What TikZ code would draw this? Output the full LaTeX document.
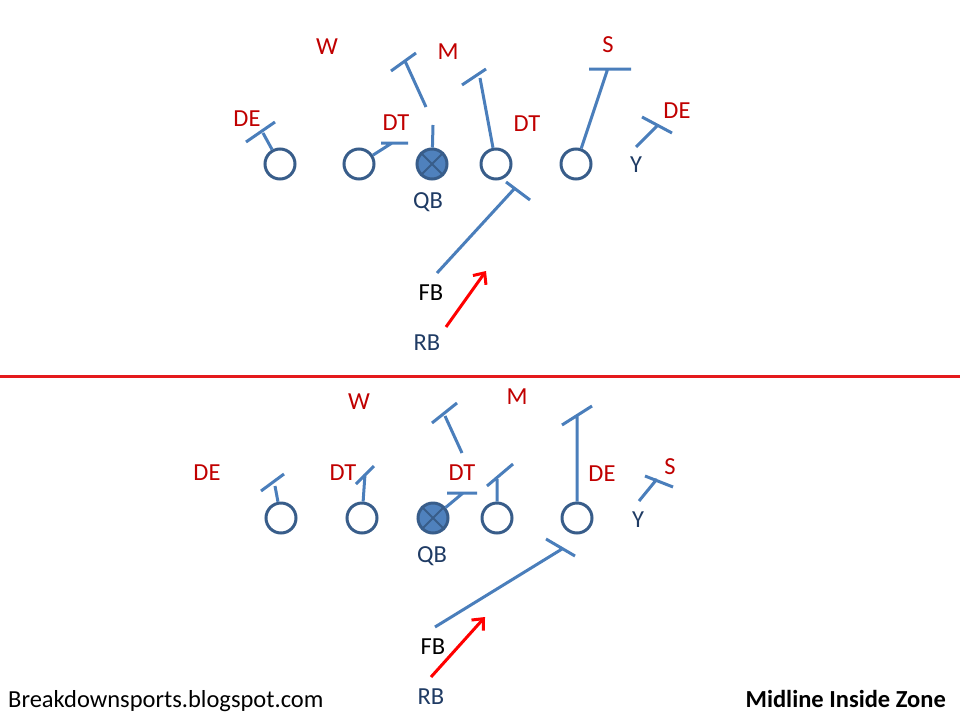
\documentclass[tikz,border=0pt]{standalone}
\usepackage{fontspec}
\setmainfont{Carlito}
\usetikzlibrary{arrows.meta}
\definecolor{office blue}{HTML}{4F81BD}
\definecolor{office edge}{HTML}{385D8A}
\definecolor{office line}{HTML}{4A7EBB}
\definecolor{office red}{HTML}{C00000}
\definecolor{office navy}{HTML}{1F3B64}
\definecolor{split red}{HTML}{E41A1C}
\colorlet{player edge}{office edge}
\colorlet{player area}{office blue}
\colorlet{block line}{office line}
\tikzset{player/.style={circle, minimum size=30, inner sep=0, draw=player edge, line width=3},
    ball/.style={player, fill=player area},
    block/.style={draw=block line, line width=3},
    defender/.style={text=office red, inner sep=0},
    offense/.style={text=office navy, inner sep=0},
    runpath/.style={draw=red, line width=3, -{Straight Barb[length=9,width=16,line width=3]}}}

\begin{document}
\begin{tikzpicture}[x=1pt, y=-1pt, font=\fontsize{24.5}{28}\selectfont]
    \useasboundingbox (0,0) rectangle (960,720);
    % first look
    \node[player] (tlt) at (280,164) {};
    \node[player] (tlg) at (359,164) {};
    \node[ball]   (tc)  at (432,164) {};
    \node[player] (trg) at (496,164) {};
    \node[player] (trt) at (576,164) {};
    \draw[player edge, line width=2] (tc.north east) -- (tc.south west)
                                     (tc.north west) -- (tc.south east);
    \node[offense] (tqb) at (428,202) {QB};
    \node[offense] (ty)  at (636,165) {Y};
    \node[inner sep=0] (tfb) at (431,293) {FB};
    \node[offense] (trb) at (427,343) {RB};
    \node[defender] (tw)   at (327,47)  {W};
    \node[defender] (tm)   at (448,52)  {M};
    \node[defender] (ts)   at (608,45)  {S};
    \node[defender] (tde1) at (247,119) {DE};
    \node[defender] (tdt1) at (396,123) {DT};
    \node[defender] (tdt2) at (527,124) {DT};
    \node[defender] (tde2) at (677,111) {DE};
    \draw[block] (tlt) -- (263,133) (246,142) -- (275,122);
    \draw[block] (tlg) -- (392,143) (381,143) -- (408,143);
    \draw[block] (tc) -- (433,125);
    \draw[block] (426,107) -- (405,61) (391,71) -- (416,53);
    \draw[block] (trg) -- (480,78) (462,85) -- (486,69);
    \draw[block] (trt) -- (608,68) (589,69) -- (631,69);
    \draw[block] (636,147) -- (657,126) (642,117) -- (672,133);
    \draw[block] (437,273) -- (515,188) (506,182) -- (530,200);
    \coordinate (trb-go) at (446,327);
    \coordinate (trb-to) at (486,271);
    \draw[runpath] (trb-go) -- (trb-to);

    \draw[split red, line width=3] (0,376) -- (960,376);

    % second look
    \node[player] (blt) at (281,518) {};
    \node[player] (blg) at (362,518) {};
    \node[ball]   (bc)  at (433,518) {};
    \node[player] (brg) at (497,518) {};
    \node[player] (brt) at (577,518) {};
    \draw[player edge, line width=2] (bc.north east) -- (bc.south west)
                                     (bc.north west) -- (bc.south east);
    \node[offense] (bqb) at (432,556) {QB};
    \node[offense] (by)  at (638,520) {Y};
    \node[inner sep=0] (bfb) at (433,647) {FB};
    \node[offense] (brb) at (431,697) {RB};
    \node[defender] (bw)   at (359,402) {W};
    \node[defender] (bm)   at (517,397) {M};
    \node[defender] (bde1) at (207,473) {DE};
    \node[defender] (bdt1) at (343,473) {DT};
    \node[defender] (bdt2) at (462,473) {DT};
    \node[defender] (bde2) at (602,474) {DE};
    \node[defender] (bs)   at (670,467) {S};
    \draw[block] (blt) -- (275,486) (261,491) -- (284,474);
    \draw[block] (blg) -- (365,474) (356,484) -- (374,466);
    \draw[block] (bc) -- (463,493) (447,493) -- (477,493);
    \draw[block] (462,453) -- (445,416) (432,423) -- (457,403);
    \draw[block] (brg) -- (497,479) (487,486) -- (513,464);
    \draw[block] (brt) -- (577,416) (562,425) -- (592,406);
    \draw[block] (639,501) -- (657,479) (645,476) -- (673,487);
    \draw[block] (435,627) -- (562,549) (546,539) -- (575,556);
    \coordinate (brb-go) at (431,677);
    \coordinate (brb-to) at (485,617);
    \draw[runpath] (brb-go) -- (brb-to);

    \node[anchor=base west, inner sep=0] (site) at (8,707) {Breakdownsports.blogspot.com};
    \node[anchor=base east, inner sep=0, font=\fontsize{24.5}{28}\selectfont\bfseries] (play) at (946,707) {Midline Inside Zone};
\end{tikzpicture}
\end{document}
